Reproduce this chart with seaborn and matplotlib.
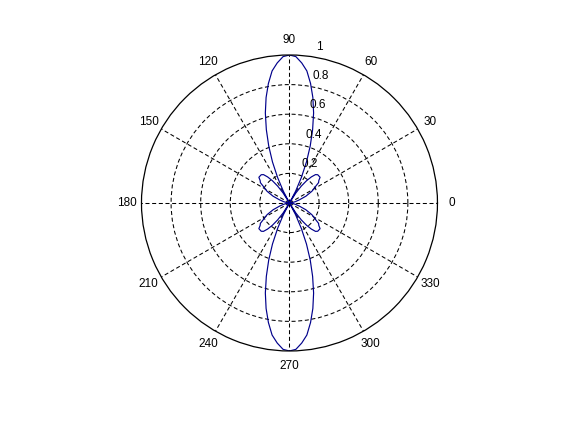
import numpy as np
import pandas as pd
import seaborn as sns
import matplotlib
matplotlib.use('Agg')
import matplotlib.pyplot as plt

# pattern, one value every 2.5 degrees from 0 to 360
angles_deg = [i * 2.5 for i in range(145)]
radius = [
    # 0 .. 87.5
    0.00, 0.00, 0.01, 0.01, 0.02, 0.04, 0.05, 0.07, 0.09, 0.12, 0.14, 0.17,
    0.19, 0.21, 0.24, 0.25, 0.27, 0.27, 0.27, 0.26, 0.23, 0.19, 0.14, 0.08,
    0.00, 0.09, 0.19, 0.30, 0.41, 0.52, 0.63, 0.73, 0.82, 0.90, 0.95, 0.99,
    # 90 .. 177.5
    1.00, 0.99, 0.95, 0.90, 0.82, 0.73, 0.63, 0.52, 0.41, 0.30, 0.19, 0.09,
    0.00, 0.08, 0.14, 0.19, 0.23, 0.26, 0.27, 0.27, 0.27, 0.25, 0.24, 0.21,
    0.19, 0.17, 0.14, 0.12, 0.09, 0.07, 0.05, 0.04, 0.02, 0.01, 0.01, 0.00,
    # 180 .. 267.5
    0.00, 0.00, 0.01, 0.01, 0.02, 0.04, 0.05, 0.07, 0.09, 0.12, 0.14, 0.17,
    0.19, 0.21, 0.24, 0.25, 0.27, 0.27, 0.27, 0.26, 0.23, 0.19, 0.14, 0.08,
    0.00, 0.09, 0.19, 0.30, 0.41, 0.52, 0.63, 0.73, 0.82, 0.90, 0.95, 0.99,
    # 270 .. 357.5
    1.00, 0.99, 0.95, 0.90, 0.82, 0.73, 0.63, 0.52, 0.41, 0.30, 0.19, 0.09,
    0.00, 0.08, 0.14, 0.19, 0.23, 0.26, 0.27, 0.27, 0.27, 0.25, 0.24, 0.21,
    0.19, 0.17, 0.14, 0.12, 0.09, 0.07, 0.05, 0.04, 0.02, 0.01, 0.01, 0.00,
    # 360
    0.00,
]

ring_values = [0.2, 0.4, 0.6, 0.8, 1.0]
ring_labels = ['0.2', '0.4', '0.6', '0.8', '1']
spoke_angles = list(range(0, 360, 30))
spoke_labels = [str(a) for a in spoke_angles]

df = pd.DataFrame({'theta': np.deg2rad(angles_deg), 'r': radius})

sns.set_style('white')
plt.rcParams['font.family'] = ['Liberation Sans', 'DejaVu Sans']
plt.rcParams['text.color'] = 'black'
plt.rcParams['lines.scale_dashes'] = False

fig = plt.figure(figsize=(5.61, 4.21), dpi=100)
ax = fig.add_axes([0.2522, 0.1663, 0.5276, 0.7031], projection='polar')

sns.lineplot(data=df, x='theta', y='r', ax=ax, sort=False, estimator=None,
             color='#00008b', linewidth=0.85)

ax.set_ylim(0, 1)
ax.set_yticks(ring_values[:-1])
ax.set_yticklabels([])
ax.set_xticks(np.deg2rad(spoke_angles))
ax.set_xticklabels([])
ax.set_xlabel('')
ax.set_ylabel('')
ax.grid(True, color='black', linestyle=(0, (2.9, 1.9)), linewidth=0.75)
ax.spines['polar'].set_color('black')
ax.spines['polar'].set_linewidth(0.9)

for a, lab in zip(spoke_angles, spoke_labels):
    ax.text(np.deg2rad(a), 1.1, lab, ha='center', va='center', fontsize=8.5,
            color='black')

for r, lab in zip(ring_values, ring_labels):
    ax.annotate(lab, xy=(np.deg2rad(83), r), xytext=(6.3, 4.7),
                textcoords='offset points', ha='left', va='baseline',
                fontsize=8.5, color='black')

fig.savefig('out.png', dpi=100, facecolor='white')
